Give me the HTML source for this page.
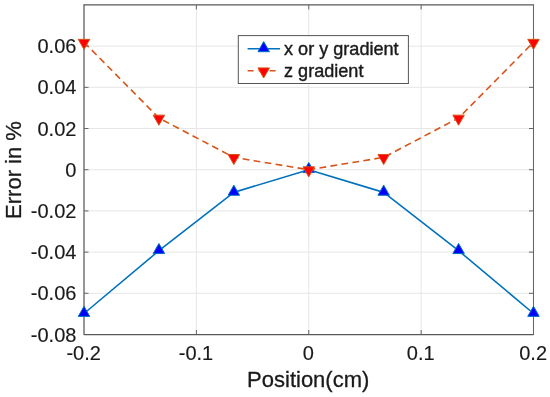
<!DOCTYPE html><html><head><meta charset="utf-8"><title>Error plot</title>
<style>html,body{margin:0;padding:0;background:#fff;}svg{display:block;}text{font-family:"Liberation Sans",sans-serif;fill:#1a1a1a;stroke:#1a1a1a;stroke-width:0.3px;}.tk{stroke-width:0.15px;}.lg{stroke-width:0.4px;}</style></head><body>
<svg width="550" height="397" viewBox="0 0 550 397">
<rect x="0" y="0" width="550" height="397" fill="#fff"/>
<line x1="196.38" y1="4.95" x2="196.38" y2="334.5" stroke="#e6e6e6" stroke-width="1"/>
<line x1="308.75" y1="4.95" x2="308.75" y2="334.5" stroke="#e6e6e6" stroke-width="1"/>
<line x1="421.13" y1="4.95" x2="421.13" y2="334.5" stroke="#e6e6e6" stroke-width="1"/>
<line x1="84.0" y1="293.31" x2="533.5" y2="293.31" stroke="#e6e6e6" stroke-width="1"/>
<line x1="84.0" y1="252.11" x2="533.5" y2="252.11" stroke="#e6e6e6" stroke-width="1"/>
<line x1="84.0" y1="210.92" x2="533.5" y2="210.92" stroke="#e6e6e6" stroke-width="1"/>
<line x1="84.0" y1="169.72" x2="533.5" y2="169.72" stroke="#e6e6e6" stroke-width="1"/>
<line x1="84.0" y1="128.53" x2="533.5" y2="128.53" stroke="#e6e6e6" stroke-width="1"/>
<line x1="84.0" y1="87.34" x2="533.5" y2="87.34" stroke="#e6e6e6" stroke-width="1"/>
<line x1="84.0" y1="46.14" x2="533.5" y2="46.14" stroke="#e6e6e6" stroke-width="1"/>
<line x1="84.0" y1="4.3500000000000005" x2="84.0" y2="335.1" stroke="#585858" stroke-width="1.25"/>
<line x1="533.5" y1="4.3500000000000005" x2="533.5" y2="335.1" stroke="#666" stroke-width="1.05"/>
<line x1="84.0" y1="4.95" x2="533.5" y2="4.95" stroke="#585858" stroke-width="1.25"/>
<line x1="84.0" y1="334.5" x2="533.5" y2="334.5" stroke="#585858" stroke-width="1.25"/>
<line x1="196.38" y1="334.5" x2="196.38" y2="330.0" stroke="#666" stroke-width="1"/>
<line x1="196.38" y1="4.95" x2="196.38" y2="9.45" stroke="#666" stroke-width="1"/>
<line x1="308.75" y1="334.5" x2="308.75" y2="330.0" stroke="#666" stroke-width="1"/>
<line x1="308.75" y1="4.95" x2="308.75" y2="9.45" stroke="#666" stroke-width="1"/>
<line x1="421.13" y1="334.5" x2="421.13" y2="330.0" stroke="#666" stroke-width="1"/>
<line x1="421.13" y1="4.95" x2="421.13" y2="9.45" stroke="#666" stroke-width="1"/>
<line x1="84.0" y1="293.31" x2="88.5" y2="293.31" stroke="#666" stroke-width="1"/>
<line x1="533.5" y1="293.31" x2="529.0" y2="293.31" stroke="#666" stroke-width="1"/>
<line x1="84.0" y1="252.11" x2="88.5" y2="252.11" stroke="#666" stroke-width="1"/>
<line x1="533.5" y1="252.11" x2="529.0" y2="252.11" stroke="#666" stroke-width="1"/>
<line x1="84.0" y1="210.92" x2="88.5" y2="210.92" stroke="#666" stroke-width="1"/>
<line x1="533.5" y1="210.92" x2="529.0" y2="210.92" stroke="#666" stroke-width="1"/>
<line x1="84.0" y1="169.72" x2="88.5" y2="169.72" stroke="#666" stroke-width="1"/>
<line x1="533.5" y1="169.72" x2="529.0" y2="169.72" stroke="#666" stroke-width="1"/>
<line x1="84.0" y1="128.53" x2="88.5" y2="128.53" stroke="#666" stroke-width="1"/>
<line x1="533.5" y1="128.53" x2="529.0" y2="128.53" stroke="#666" stroke-width="1"/>
<line x1="84.0" y1="87.34" x2="88.5" y2="87.34" stroke="#666" stroke-width="1"/>
<line x1="533.5" y1="87.34" x2="529.0" y2="87.34" stroke="#666" stroke-width="1"/>
<line x1="84.0" y1="46.14" x2="88.5" y2="46.14" stroke="#666" stroke-width="1"/>
<line x1="533.5" y1="46.14" x2="529.0" y2="46.14" stroke="#666" stroke-width="1"/>
<polyline points="84.00,313.49 158.92,250.67 233.83,192.38 308.75,169.72 383.67,192.38 458.58,250.67 533.50,313.49" fill="none" stroke="#0072BD" stroke-width="1.6" stroke-linejoin="round"/>
<polyline points="84.00,42.23 158.92,118.03 233.83,157.37 308.75,169.72 383.67,157.37 458.58,118.03 533.50,42.23" fill="none" stroke="#D95319" stroke-width="1.6" stroke-dasharray="6.8 4.32" stroke-linejoin="round"/>
<polygon points="78.25,316.39 89.75,316.39 84.00,306.29" fill="#0000FF" stroke="#0072BD" stroke-width="1" stroke-linejoin="miter"/>
<polygon points="153.17,253.57 164.67,253.57 158.92,243.47" fill="#0000FF" stroke="#0072BD" stroke-width="1" stroke-linejoin="miter"/>
<polygon points="228.08,195.28 239.58,195.28 233.83,185.18" fill="#0000FF" stroke="#0072BD" stroke-width="1" stroke-linejoin="miter"/>
<polygon points="303.00,172.62 314.50,172.62 308.75,162.53" fill="#0000FF" stroke="#0072BD" stroke-width="1" stroke-linejoin="miter"/>
<polygon points="377.92,195.28 389.42,195.28 383.67,185.18" fill="#0000FF" stroke="#0072BD" stroke-width="1" stroke-linejoin="miter"/>
<polygon points="452.83,253.57 464.33,253.57 458.58,243.47" fill="#0000FF" stroke="#0072BD" stroke-width="1" stroke-linejoin="miter"/>
<polygon points="527.75,316.39 539.25,316.39 533.50,306.29" fill="#0000FF" stroke="#0072BD" stroke-width="1" stroke-linejoin="miter"/>
<polygon points="78.25,39.33 89.75,39.33 84.00,49.43" fill="#FF0000" stroke="#D95319" stroke-width="1" stroke-linejoin="miter"/>
<polygon points="153.17,115.13 164.67,115.13 158.92,125.23" fill="#FF0000" stroke="#D95319" stroke-width="1" stroke-linejoin="miter"/>
<polygon points="228.08,154.47 239.58,154.47 233.83,164.57" fill="#FF0000" stroke="#D95319" stroke-width="1" stroke-linejoin="miter"/>
<polygon points="303.00,166.82 314.50,166.82 308.75,176.92" fill="#FF0000" stroke="#D95319" stroke-width="1" stroke-linejoin="miter"/>
<polygon points="377.92,154.47 389.42,154.47 383.67,164.57" fill="#FF0000" stroke="#D95319" stroke-width="1" stroke-linejoin="miter"/>
<polygon points="452.83,115.13 464.33,115.13 458.58,125.23" fill="#FF0000" stroke="#D95319" stroke-width="1" stroke-linejoin="miter"/>
<polygon points="527.75,39.33 539.25,39.33 533.50,49.43" fill="#FF0000" stroke="#D95319" stroke-width="1" stroke-linejoin="miter"/>
<text class="tk" transform="translate(76.4,341.60) scale(1,1.03)" font-size="20" text-anchor="end">-0.08</text>
<text class="tk" transform="translate(76.4,300.41) scale(1,1.03)" font-size="20" text-anchor="end">-0.06</text>
<text class="tk" transform="translate(76.4,259.21) scale(1,1.03)" font-size="20" text-anchor="end">-0.04</text>
<text class="tk" transform="translate(76.4,218.02) scale(1,1.03)" font-size="20" text-anchor="end">-0.02</text>
<text class="tk" transform="translate(76.4,176.82) scale(1,1.03)" font-size="20" text-anchor="end">0</text>
<text class="tk" transform="translate(76.4,135.63) scale(1,1.03)" font-size="20" text-anchor="end">0.02</text>
<text class="tk" transform="translate(76.4,94.44) scale(1,1.03)" font-size="20" text-anchor="end">0.04</text>
<text class="tk" transform="translate(76.4,53.24) scale(1,1.03)" font-size="20" text-anchor="end">0.06</text>
<text class="tk" transform="translate(83.60,360.2) scale(1,1.03)" font-size="20" text-anchor="middle">-0.2</text>
<text class="tk" transform="translate(195.97,360.2) scale(1,1.03)" font-size="20" text-anchor="middle">-0.1</text>
<text class="tk" transform="translate(308.35,360.2) scale(1,1.03)" font-size="20" text-anchor="middle">0</text>
<text class="tk" transform="translate(420.73,360.2) scale(1,1.03)" font-size="20" text-anchor="middle">0.1</text>
<text class="tk" transform="translate(533.10,360.2) scale(1,1.03)" font-size="20" text-anchor="middle">0.2</text>
<text class="lb" transform="translate(308.2,387.2) scale(1,1.03)" font-size="22" text-anchor="middle">Position(cm)</text>
<text transform="translate(21.3,170) rotate(-90) scale(1,1.03)" class="lb" font-size="22" text-anchor="middle">Error in %</text>
<rect x="238.3" y="35.6" width="170.1" height="47.9" fill="#fff" stroke="#555" stroke-width="1"/>
<line x1="247.6" y1="48.8" x2="280" y2="48.8" stroke="#0072BD" stroke-width="1.5"/>
<polygon points="257.95,51.70 269.45,51.70 263.70,41.60" fill="#0000FF" stroke="#0072BD" stroke-width="1" stroke-linejoin="miter"/>
<line x1="247.6" y1="70.8" x2="280" y2="70.8" stroke="#D95319" stroke-width="1.5" stroke-dasharray="6 5"/>
<polygon points="257.95,67.90 269.45,67.90 263.70,78.00" fill="#FF0000" stroke="#D95319" stroke-width="1" stroke-linejoin="miter"/>
<text class="lg" x="284" y="55.2" font-size="18.1">x or y gradient</text>
<text class="lg" x="284" y="77.1" font-size="18.1">z gradient</text>
</svg></body></html>
